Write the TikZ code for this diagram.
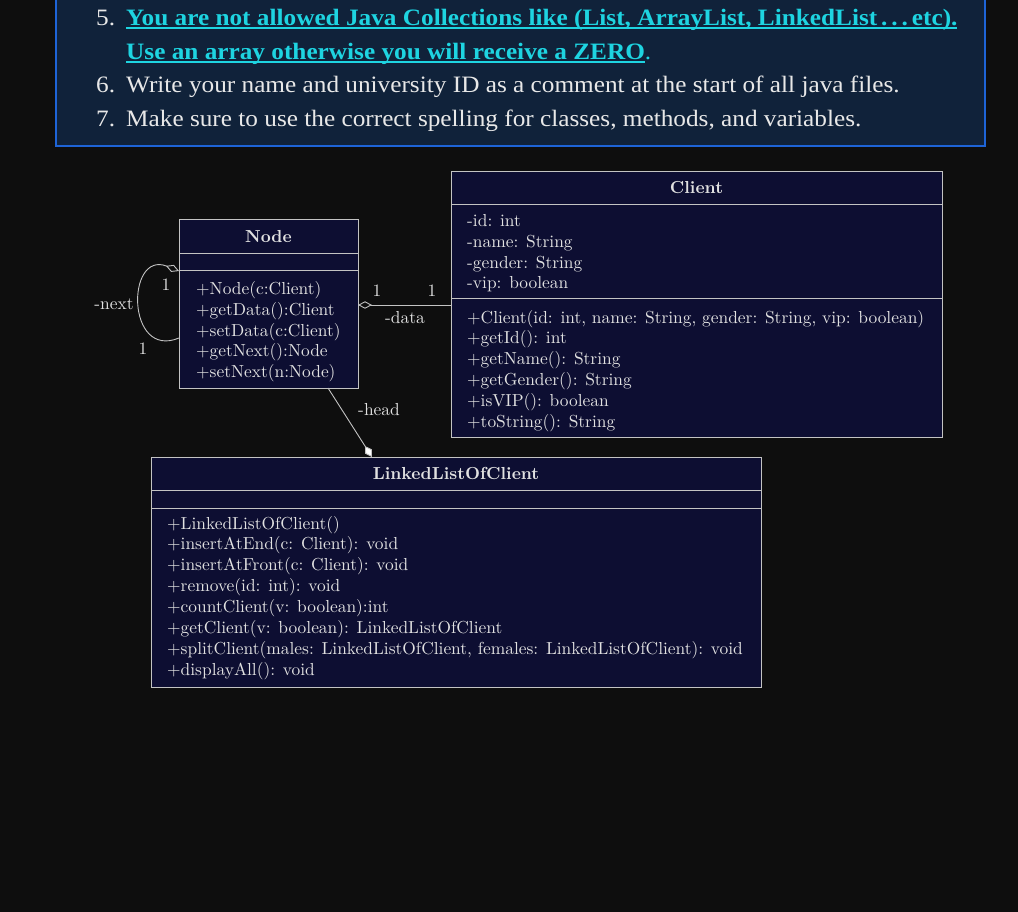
\documentclass[tikz,border=0pt]{standalone}
\usepackage{fontspec}
\usepackage{graphicx}
\usetikzlibrary{arrows.meta}
\newfontfamily\topfont{Liberation Serif}[FakeStretch=1.075]
\definecolor{pagebg}{RGB}{14,14,14}
\definecolor{topbg}{RGB}{16,34,58}
\definecolor{topblue}{RGB}{30,100,215}
\definecolor{linkcyan}{RGB}{30,212,225}
\definecolor{toptext}{RGB}{232,232,232}
\definecolor{clsfill}{RGB}{13,14,50}
\definecolor{bordc}{RGB}{195,195,195}
\definecolor{fgc}{RGB}{225,225,225}
\newcommand\umltext[1]{\scalebox{1.74}{\begin{tabular}{@{}l@{}}#1\end{tabular}}}
\newcommand\umlt[1]{\scalebox{1.74}{#1}}
\newcommand\linkul[1]{\setbox0\hbox{#1}\rlap{\color{linkcyan}\rule[-2.6pt]{\wd0}{1.3pt}}\box0}
\begin{document}
\begin{tikzpicture}[x=1pt,y=-1pt,
  comp/.style={draw=bordc,fill=clsfill,line width=1pt,inner sep=0pt,outer sep=0pt,anchor=north west,text=fgc},
  members/.style={inner sep=0pt,anchor=north west,text=fgc},
  lbl/.style={inner sep=0pt,text=fgc},
  topline/.style={inner sep=0pt,anchor=base west,text=toptext,font=\topfont\fontsize{23.5}{28}\selectfont},
  conn/.style={draw=bordc,line width=0.9pt}
]
\useasboundingbox[fill=pagebg] (0,0) rectangle (1018,912);
% top instruction box
\path[fill=topbg,draw=topblue,line width=2pt] (56,-10) rectangle (985,146);
\node[topline] (n5) at (96,26) {5.};
\node[topline,text=linkcyan] (t5) at (126,26) {\linkul{\bfseries You are not allowed Java Collections like (List, ArrayList, LinkedList\,.\,.\,.\,etc).}};
\node[topline] (t5b) at (126,60) {\linkul{\color{linkcyan}\bfseries Use an array otherwise you will receive a ZERO}.};
\node[topline] (n6) at (96,93) {6.};
\node[topline] (t6) at (126,93) {Write your name and university ID as a comment at the start of all java files.};
\node[topline] (n7) at (96,127) {7.};
\node[topline] (t7) at (126,127) {Make sure to use the correct spelling for classes, methods, and variables.};

% Node class
\node[comp,minimum width=179pt,minimum height=34pt] (nodeT) at (179,220) {\umlt{\bfseries Node}};
\node[comp,minimum width=179pt,minimum height=17pt] (nodeA) at (179,254) {};
\node[comp,minimum width=179pt,minimum height=117pt] (nodeM) at (179,271) {};
\node[members] (nodeMt) at (196,279.5) {\umltext{+Node(c:Client)\\+getData():Client\\+setData(c:Client)\\+getNext():Node\\+setNext(n:Node)}};

% Client class
\node[comp,minimum width=491pt,minimum height=33pt] (cliT) at (451,172) {\raisebox{1.5pt}{\umlt{\bfseries Client}}};
\node[comp,minimum width=491pt,minimum height=94pt] (cliA) at (451,205) {};
\node[comp,minimum width=491pt,minimum height=138pt] (cliM) at (451,299) {};
\node[members] (cliAt) at (467,211.5) {\umltext{-id: int\\-name: String\\-gender: String\\-vip: boolean}};
\node[members] (cliMt) at (467,308.2) {\umltext{+Client(id: int, name: String, gender: String, vip: boolean)\\+getId(): int\\+getName(): String\\+getGender(): String\\+isVIP(): boolean\\+toString(): String}};

% LinkedListOfClient class
\node[comp,minimum width=610pt,minimum height=33pt] (llT) at (151,457) {\raisebox{1pt}{\umlt{\bfseries LinkedListOfClient}}};
\node[comp,minimum width=610pt,minimum height=18pt] (llA) at (151,490) {};
\node[comp,minimum width=610pt,minimum height=179pt] (llM) at (151,508) {};
\node[members] (llMt) at (167,514.2) {\umltext{+LinkedListOfClient()\\+insertAtEnd(c: Client): void\\+insertAtFront(c: Client): void\\+remove(id: int): void\\+countClient(v: boolean):int\\+getClient(v: boolean): LinkedListOfClient\\+splitClient(males: LinkedListOfClient, females: LinkedListOfClient): void\\+displayAll(): void}};

% self association next
\coordinate (loopA) at (nodeM.north west);
\coordinate (loopB) at ([yshift=-67pt]nodeM.north west);
\draw[conn,{Diamond[open,length=14pt,width=7.5pt]}-] (loopA) .. controls (126,250) and (126,360) .. (loopB);
\node[lbl] (lnext) at (114,304) {\umlt{-next}};
\node[lbl] (l1a) at (166,285) {\umlt{1}};
\node[lbl] (l1b) at (143,349) {\umlt{1}};

% data association
\coordinate (dataA) at ([yshift=-34pt]nodeM.north east);
\draw[conn,{Diamond[open,length=14pt,width=7.5pt]}-] (dataA) -- (dataA -| cliM.west);
\node[lbl] (l1c) at (377,291) {\umlt{1}};
\node[lbl] (l1d) at (432,291) {\umlt{1}};
\node[lbl] (ldata) at (405,318) {\umlt{-data}};

% head composition
\coordinate (headA) at ([xshift=149pt]nodeM.south west);
\coordinate (headB) at ([xshift=221pt]llT.north west);
\draw[conn,-{Diamond[fill=white,length=13pt,width=8pt]}] (headA) -- (headB);
\node[lbl] (lhead) at (379,410) {\umlt{-head}};
\end{tikzpicture}
\end{document}
